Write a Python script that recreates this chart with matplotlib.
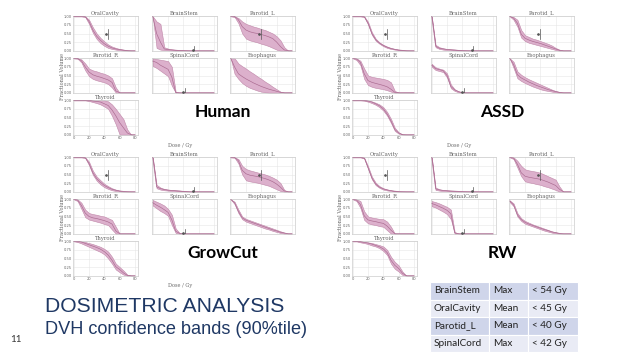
import numpy as np
import matplotlib
matplotlib.use("Agg")
import matplotlib.pyplot as plt
from matplotlib.patches import Rectangle

# dose grid shared by every DVH curve (Gy)
DOSE = [0, 5, 10, 15, 20, 25, 30, 35, 40, 45, 50, 55, 60, 65, 70, 75, 80]

# panel order in each 3-column grid
STRUCTURES = ["OralCavity", "BrainStem", "Parotid_L",
              "Parotid_R", "SpinalCord", "Esophagus", "Thyroid"]

# each structure: (lower 5%, median, upper 95%) fractional volume
HUMAN = {
    "OralCavity": ([1, 1, 1, 0.98, 0.78, 0.52, 0.34, 0.22, 0.14, 0.08, 0.05, 0.03, 0.015, 0.005, 0, 0, 0],
                   [1, 1, 1, 0.99, 0.85, 0.6, 0.42, 0.3, 0.2, 0.13, 0.08, 0.05, 0.03, 0.015, 0.005, 0, 0],
                   [1, 1, 1, 1, 0.9, 0.68, 0.5, 0.37, 0.27, 0.18, 0.12, 0.08, 0.05, 0.03, 0.01, 0, 0]),
    "BrainStem": ([1, 0.08, 0.03, 0.02, 0.01, 0.005, 0, 0, 0, 0, 0, 0, 0, 0, 0, 0, 0],
                  [1, 0.5, 0.25, 0.05, 0.03, 0.02, 0.01, 0.005, 0, 0, 0, 0, 0, 0, 0, 0, 0],
                  [1, 0.85, 0.78, 0.1, 0.06, 0.04, 0.03, 0.02, 0.01, 0.005, 0, 0, 0, 0, 0, 0, 0]),
    "Parotid_L": ([1, 0.98, 0.8, 0.5, 0.35, 0.3, 0.27, 0.24, 0.2, 0.17, 0.13, 0.08, 0.03, 0, 0, 0, 0],
                  [1, 1, 0.9, 0.7, 0.6, 0.55, 0.52, 0.5, 0.47, 0.44, 0.4, 0.35, 0.25, 0.12, 0.02, 0, 0],
                  [1, 1, 0.95, 0.85, 0.78, 0.74, 0.7, 0.67, 0.63, 0.6, 0.55, 0.5, 0.42, 0.3, 0.1, 0, 0]),
    "Parotid_R": ([1, 0.99, 0.88, 0.65, 0.48, 0.4, 0.36, 0.33, 0.3, 0.25, 0.15, 0, 0, 0, 0, 0, 0],
                  [1, 1, 0.93, 0.75, 0.6, 0.52, 0.48, 0.45, 0.41, 0.37, 0.3, 0.05, 0, 0, 0, 0, 0],
                  [1, 1, 0.97, 0.85, 0.7, 0.65, 0.62, 0.58, 0.55, 0.5, 0.42, 0.15, 0, 0, 0, 0, 0]),
    "SpinalCord": ([0.78, 0.72, 0.64, 0.56, 0.48, 0.2, 0, 0, 0, 0, 0, 0, 0, 0, 0, 0, 0],
                   [0.92, 0.88, 0.8, 0.74, 0.68, 0.45, 0, 0, 0, 0, 0, 0, 0, 0, 0, 0, 0],
                   [1, 0.98, 0.96, 0.94, 0.92, 0.75, 0.02, 0, 0, 0, 0, 0, 0, 0, 0, 0, 0]),
    "Esophagus": ([1, 0.55, 0.4, 0.28, 0.2, 0.14, 0.1, 0.06, 0.03, 0.01, 0, 0, 0, 0, 0, 0, 0],
                  [1, 0.75, 0.55, 0.47, 0.4, 0.34, 0.28, 0.23, 0.18, 0.14, 0.1, 0.07, 0.04, 0.01, 0, 0, 0],
                  [1, 1, 0.85, 0.77, 0.7, 0.62, 0.55, 0.47, 0.4, 0.32, 0.25, 0.17, 0.1, 0.03, 0, 0, 0]),
    "Thyroid": ([1, 1, 1, 1, 0.98, 0.95, 0.92, 0.88, 0.82, 0.75, 0.55, 0.3, 0, 0, 0, 0, 0],
                [1, 1, 1, 1, 1, 0.98, 0.97, 0.95, 0.9, 0.85, 0.72, 0.55, 0.35, 0.2, 0.05, 0, 0],
                [1, 1, 1, 1, 1, 1, 1, 1, 1, 0.97, 0.88, 0.75, 0.6, 0.45, 0.15, 0, 0]),
}

ASSD = {
    "OralCavity": ([1, 1, 1, 0.98, 0.76, 0.46, 0.29, 0.2, 0.13, 0.08, 0.05, 0.03, 0.01, 0.005, 0, 0, 0],
                   [1, 1, 1, 0.99, 0.8, 0.5, 0.32, 0.22, 0.15, 0.1, 0.06, 0.04, 0.02, 0.01, 0, 0, 0],
                   [1, 1, 1, 1, 0.84, 0.54, 0.35, 0.24, 0.17, 0.12, 0.08, 0.05, 0.03, 0.015, 0.005, 0, 0]),
    "BrainStem": ([1, 0.1, 0.05, 0.03, 0.02, 0.015, 0.01, 0.005, 0, 0, 0, 0, 0, 0, 0, 0, 0],
                  [1, 0.13, 0.07, 0.05, 0.035, 0.025, 0.02, 0.01, 0.005, 0, 0, 0, 0, 0, 0, 0, 0],
                  [1, 0.17, 0.1, 0.07, 0.05, 0.04, 0.03, 0.02, 0.01, 0.005, 0, 0, 0, 0, 0, 0, 0]),
    "Parotid_L": ([1, 0.9, 0.7, 0.38, 0.28, 0.23, 0.2, 0.17, 0.14, 0.11, 0.08, 0.05, 0.02, 0, 0, 0, 0],
                  [1, 0.95, 0.8, 0.48, 0.36, 0.31, 0.27, 0.24, 0.21, 0.17, 0.13, 0.09, 0.05, 0.01, 0, 0, 0],
                  [1, 0.98, 0.9, 0.6, 0.45, 0.4, 0.35, 0.32, 0.28, 0.24, 0.2, 0.15, 0.08, 0.03, 0, 0, 0]),
    "Parotid_R": ([1, 0.95, 0.8, 0.4, 0.22, 0.17, 0.14, 0.12, 0.1, 0.07, 0.03, 0, 0, 0, 0, 0, 0],
                  [1, 0.98, 0.88, 0.55, 0.35, 0.3, 0.27, 0.24, 0.21, 0.17, 0.1, 0.01, 0, 0, 0, 0, 0],
                  [1, 1, 0.93, 0.7, 0.5, 0.46, 0.44, 0.42, 0.4, 0.37, 0.3, 0.05, 0, 0, 0, 0, 0]),
    "SpinalCord": ([0.76, 0.66, 0.63, 0.6, 0.44, 0.13, 0.05, 0.01, 0, 0, 0, 0, 0, 0, 0, 0, 0],
                   [0.8, 0.7, 0.67, 0.64, 0.5, 0.18, 0.08, 0.03, 0, 0, 0, 0, 0, 0, 0, 0, 0],
                   [0.84, 0.74, 0.7, 0.67, 0.56, 0.24, 0.1, 0.04, 0.01, 0, 0, 0, 0, 0, 0, 0, 0]),
    "Esophagus": ([1, 0.72, 0.42, 0.34, 0.28, 0.23, 0.18, 0.14, 0.1, 0.07, 0.05, 0.03, 0.01, 0, 0, 0, 0],
                  [1, 0.82, 0.52, 0.43, 0.37, 0.31, 0.26, 0.21, 0.17, 0.13, 0.09, 0.06, 0.03, 0.01, 0, 0, 0],
                  [1, 0.9, 0.62, 0.52, 0.45, 0.39, 0.34, 0.29, 0.24, 0.19, 0.14, 0.09, 0.05, 0.02, 0, 0, 0]),
    "Thyroid": ([1, 1, 1, 0.99, 0.96, 0.92, 0.87, 0.8, 0.7, 0.55, 0.34, 0.11, 0.03, 0, 0, 0, 0],
                [1, 1, 1, 1, 0.98, 0.95, 0.9, 0.84, 0.75, 0.6, 0.4, 0.15, 0.05, 0, 0, 0, 0],
                [1, 1, 1, 1, 0.99, 0.97, 0.93, 0.88, 0.8, 0.66, 0.46, 0.2, 0.07, 0.01, 0, 0, 0]),
}

GROWCUT = {
    "OralCavity": ([1, 1, 1, 0.98, 0.77, 0.49, 0.32, 0.21, 0.13, 0.08, 0.04, 0.02, 0.01, 0, 0, 0, 0],
                   [1, 1, 1, 0.99, 0.82, 0.55, 0.38, 0.27, 0.18, 0.12, 0.07, 0.04, 0.02, 0.01, 0, 0, 0],
                   [1, 1, 1, 1, 0.87, 0.61, 0.44, 0.33, 0.23, 0.16, 0.1, 0.06, 0.03, 0.015, 0.005, 0, 0]),
    "BrainStem": ([1, 0.1, 0.06, 0.04, 0.03, 0.02, 0.015, 0.01, 0.005, 0, 0, 0, 0, 0, 0, 0, 0],
                  [1, 0.14, 0.09, 0.06, 0.045, 0.035, 0.025, 0.02, 0.01, 0.005, 0, 0, 0, 0, 0, 0, 0],
                  [1, 0.2, 0.12, 0.08, 0.06, 0.05, 0.04, 0.03, 0.02, 0.01, 0, 0, 0, 0, 0, 0, 0]),
    "Parotid_L": ([1, 0.99, 0.82, 0.5, 0.33, 0.3, 0.28, 0.26, 0.23, 0.2, 0.17, 0.12, 0.07, 0.02, 0, 0, 0],
                  [1, 1, 0.9, 0.62, 0.52, 0.48, 0.46, 0.44, 0.41, 0.38, 0.34, 0.29, 0.22, 0.13, 0.02, 0, 0],
                  [1, 1, 0.95, 0.75, 0.66, 0.62, 0.59, 0.56, 0.53, 0.5, 0.46, 0.41, 0.35, 0.25, 0.05, 0, 0]),
    "Parotid_R": ([1, 0.95, 0.72, 0.48, 0.41, 0.38, 0.35, 0.32, 0.28, 0.25, 0.12, 0, 0, 0, 0, 0, 0],
                  [1, 0.98, 0.82, 0.6, 0.5, 0.46, 0.44, 0.41, 0.38, 0.34, 0.28, 0.08, 0, 0, 0, 0, 0],
                  [1, 1, 0.9, 0.7, 0.6, 0.57, 0.55, 0.52, 0.5, 0.45, 0.4, 0.2, 0, 0, 0, 0, 0]),
    "SpinalCord": ([0.82, 0.74, 0.66, 0.6, 0.52, 0.25, 0.02, 0, 0, 0, 0, 0, 0, 0, 0, 0, 0],
                   [0.9, 0.83, 0.77, 0.7, 0.62, 0.4, 0.07, 0.01, 0, 0, 0, 0, 0, 0, 0, 0, 0],
                   [0.98, 0.93, 0.88, 0.82, 0.72, 0.55, 0.15, 0.02, 0, 0, 0, 0, 0, 0, 0, 0, 0]),
    "Esophagus": ([1, 0.86, 0.6, 0.42, 0.35, 0.31, 0.27, 0.23, 0.19, 0.15, 0.12, 0.08, 0.05, 0.02, 0, 0, 0],
                  [1, 0.9, 0.65, 0.46, 0.39, 0.35, 0.31, 0.27, 0.23, 0.19, 0.15, 0.11, 0.08, 0.04, 0.02, 0, 0],
                  [1, 0.93, 0.7, 0.5, 0.43, 0.39, 0.35, 0.31, 0.27, 0.23, 0.19, 0.15, 0.11, 0.07, 0.03, 0, 0]),
    "Thyroid": ([1, 0.98, 0.94, 0.89, 0.84, 0.79, 0.74, 0.69, 0.62, 0.5, 0.35, 0.18, 0.1, 0.03, 0, 0, 0],
                [1, 1, 0.98, 0.94, 0.9, 0.86, 0.82, 0.77, 0.7, 0.6, 0.45, 0.26, 0.18, 0.08, 0.01, 0, 0],
                [1, 1, 1, 0.98, 0.95, 0.92, 0.88, 0.84, 0.78, 0.7, 0.55, 0.35, 0.25, 0.15, 0.03, 0, 0]),
}

RW = {
    "OralCavity": ([1, 1, 1, 0.97, 0.66, 0.36, 0.19, 0.11, 0.06, 0.035, 0.02, 0.01, 0, 0, 0, 0, 0],
                   [1, 1, 1, 0.98, 0.7, 0.4, 0.22, 0.13, 0.08, 0.05, 0.03, 0.015, 0.005, 0, 0, 0, 0],
                   [1, 1, 1, 0.99, 0.74, 0.44, 0.26, 0.16, 0.1, 0.065, 0.04, 0.02, 0.01, 0.005, 0, 0, 0]),
    "BrainStem": ([1, 0.05, 0.03, 0.02, 0.015, 0.01, 0.005, 0, 0, 0, 0, 0, 0, 0, 0, 0, 0],
                  [1, 0.08, 0.05, 0.035, 0.025, 0.02, 0.015, 0.01, 0.005, 0, 0, 0, 0, 0, 0, 0, 0],
                  [1, 0.12, 0.07, 0.05, 0.04, 0.03, 0.025, 0.02, 0.01, 0.005, 0.002, 0, 0, 0, 0, 0, 0]),
    "Parotid_L": ([1, 0.95, 0.7, 0.45, 0.3, 0.27, 0.25, 0.22, 0.2, 0.16, 0.13, 0.09, 0.05, 0, 0, 0, 0],
                  [1, 0.98, 0.8, 0.55, 0.45, 0.42, 0.4, 0.38, 0.36, 0.32, 0.28, 0.23, 0.18, 0.07, 0, 0, 0],
                  [1, 1, 0.9, 0.75, 0.65, 0.62, 0.6, 0.58, 0.55, 0.5, 0.45, 0.4, 0.35, 0.15, 0, 0, 0]),
    "Parotid_R": ([1, 0.95, 0.75, 0.4, 0.3, 0.27, 0.25, 0.22, 0.2, 0.1, 0, 0, 0, 0, 0, 0, 0],
                  [1, 0.98, 0.85, 0.52, 0.4, 0.37, 0.35, 0.32, 0.3, 0.22, 0.1, 0, 0, 0, 0, 0, 0],
                  [1, 1, 0.95, 0.65, 0.5, 0.47, 0.45, 0.43, 0.42, 0.35, 0.2, 0, 0, 0, 0, 0, 0]),
    "SpinalCord": ([0.8, 0.76, 0.7, 0.64, 0.57, 0.42, 0, 0, 0, 0, 0, 0, 0, 0, 0, 0, 0],
                   [0.88, 0.84, 0.79, 0.74, 0.68, 0.58, 0.02, 0, 0, 0, 0, 0, 0, 0, 0, 0, 0],
                   [0.95, 0.92, 0.88, 0.83, 0.78, 0.7, 0.05, 0, 0, 0, 0, 0, 0, 0, 0, 0, 0]),
    "Esophagus": ([0.92, 0.8, 0.5, 0.37, 0.29, 0.25, 0.21, 0.17, 0.13, 0.09, 0.06, 0.03, 0.01, 0, 0, 0, 0],
                  [0.95, 0.84, 0.55, 0.41, 0.33, 0.28, 0.24, 0.2, 0.16, 0.12, 0.09, 0.05, 0.03, 0.01, 0, 0, 0],
                  [0.97, 0.88, 0.6, 0.45, 0.37, 0.32, 0.27, 0.23, 0.19, 0.15, 0.11, 0.07, 0.04, 0.015, 0, 0, 0]),
    "Thyroid": ([1, 1, 0.97, 0.95, 0.92, 0.88, 0.85, 0.8, 0.72, 0.6, 0.35, 0.2, 0.12, 0.02, 0, 0, 0],
                [1, 1, 0.99, 0.97, 0.95, 0.92, 0.88, 0.84, 0.78, 0.67, 0.45, 0.3, 0.21, 0.07, 0, 0, 0],
                [1, 1, 1, 0.98, 0.97, 0.95, 0.92, 0.89, 0.85, 0.75, 0.55, 0.4, 0.3, 0.12, 0, 0, 0]),
}

GROUP_NAMES = ["Human", "ASSD", "GrowCut", "RW"]

# dose constraints (also shown in the table)
TABLE_ORGANS = ["BrainStem", "OralCavity", "Parotid_L", "SpinalCord"]
TABLE_METRIC = ["Max", "Mean", "Mean", "Max"]
TABLE_LIMIT = ["< 54 Gy", "< 45 Gy", "< 40 Gy", "< 42 Gy"]
CONSTRAINT_GY = [54, 45, 40, 42]
ACHIEVED_GY = [52, 42, 37, 40]   # dot next to each constraint marker

W, H = 638, 359
FILL = "#dcb0cc"
EDGE = "#bf86a8"
LINE = "#a8688e"

fig = plt.figure(figsize=(W / 100, H / 100), dpi=100)
fig.patch.set_facecolor("white")

# overlay in pixel coordinates for slide text and the table
bg = fig.add_axes([0, 0, 1, 1])
bg.set_xlim(0, W)
bg.set_ylim(H, 0)
bg.axis("off")


def px_axes(x, y, w, h):
    return fig.add_axes([x / W, 1 - (y + h) / H, w / W, h / H])


def draw_group(x0, y0, bands, name, xlabel=True):
    col_dx = [0, 79, 157]
    row_dy = [0, 42, 84]
    pw, ph = 65, 35
    for i, s in enumerate(STRUCTURES):
        r, c = divmod(i, 3)
        ax = px_axes(x0 + col_dx[c], y0 + row_dy[r], pw, ph)
        lo, mid, hi = [np.array(v) for v in bands[s]]
        ax.fill_between(DOSE, lo, hi, facecolor=FILL, lw=0.4,
                        edgecolor=EDGE, zorder=2)
        ax.plot(DOSE, mid, color=LINE, lw=0.45, zorder=3)
        if s in TABLE_ORGANS:
            k = TABLE_ORGANS.index(s)
            if TABLE_METRIC[k] == "Mean":
                yc = 0.48
                ax.plot([CONSTRAINT_GY[k]] * 2, [yc - 0.14, yc + 0.14],
                        color="#555555", lw=0.5, zorder=4)
            else:
                yc = 0.02
                ax.plot([CONSTRAINT_GY[k]] * 2, [0, 0.13],
                        color="#555555", lw=0.5, zorder=4)
            ax.errorbar(ACHIEVED_GY[k], yc, xerr=1.2, fmt="o", ms=0.9,
                        color="#555555", lw=0.4, zorder=4)
        ax.set_xlim(-1, 84)
        ax.set_ylim(-0.01, 1.01)
        ax.set_xticks([0, 20, 40, 60, 80])
        ax.set_yticks([0, 0.25, 0.5, 0.75, 1.0])
        ax.grid(True, color="#e6e6e6", lw=0.4)
        ax.set_axisbelow(True)
        for sp in ax.spines.values():
            sp.set_color("#cccccc")
            sp.set_linewidth(0.5)
        ax.tick_params(length=0, pad=1, labelsize=2.6, colors="#666666")
        if c != 0:
            ax.set_yticklabels([])
        else:
            ax.set_yticklabels(["0.00", "0.25", "0.50", "0.75", "1.00"])
        if s != "Thyroid":
            ax.set_xticklabels([])
        ax.set_title(s, fontsize=3.8, family="DejaVu Serif", color="#666666", pad=1)

    bg.text(x0 - 11, y0 + 60, "Fractional Volume", rotation=90, ha="center",
            va="center", fontsize=3.6, family="DejaVu Serif", color="#666666")
    if xlabel:
        bg.text(x0 + 107, y0 + 129, "Dose / Gy", ha="center", va="center",
                fontsize=3.6, family="DejaVu Serif", color="#666666")
    bg.text(x0 + 150, y0 + 96, name, ha="center", va="center", fontsize=12.5,
            family="Lato", fontweight="bold", color="black")


draw_group(73, 16, HUMAN, GROUP_NAMES[0])
draw_group(352, 16, ASSD, GROUP_NAMES[1])
draw_group(73, 157, GROWCUT, GROUP_NAMES[2])
draw_group(352, 157, RW, GROUP_NAMES[3], xlabel=False)

# slide title text
bg.text(45, 307, "DOSIMETRIC ANALYSIS", ha="left", va="center", fontsize=15.2,
        family="Liberation Sans", color="#1f3864")
bg.text(45, 330, "DVH confidence bands (90%tile)", ha="left", va="center",
        fontsize=13.1, family="Liberation Sans", color="#1f3864")
bg.text(10, 340, "11", ha="left", va="center", fontsize=7, family="Lato",
        color="#333333")

# constraint table
col_x = [430, 489, 528, 578]
row_h = 17.5
ty0 = 282
for i in range(len(TABLE_ORGANS)):
    shade = "#cfd5ea" if i % 2 == 0 else "#e9ebf5"
    yy = ty0 + i * row_h
    for j in range(3):
        bg.add_patch(Rectangle((col_x[j], yy), col_x[j + 1] - col_x[j], row_h,
                               facecolor=shade, edgecolor="white", lw=0.8))
    cells = [TABLE_ORGANS[i], TABLE_METRIC[i], TABLE_LIMIT[i]]
    for j, t in enumerate(cells):
        bg.text(col_x[j] + 4, yy + row_h / 2, t, ha="left", va="center",
                fontsize=7.2, family="Lato", color="#222222")

fig.savefig("out.png", dpi=100)
